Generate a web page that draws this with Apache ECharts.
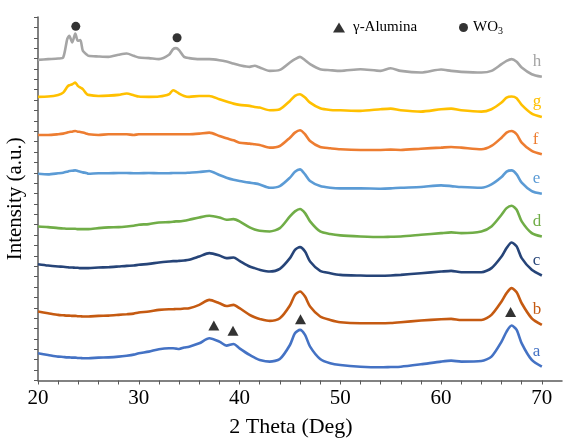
<!DOCTYPE html>
<html>
<head>
<meta charset="utf-8">
<script src="https://cdn.jsdelivr.net/npm/echarts@6/dist/echarts.min.js"></script>
<style>
html,body{margin:0;padding:0;background:#fff;}
#chart{width:568px;height:438px;}
</style>
</head>
<body>
<div id="chart"></div>
<script>
// 2-theta positions (deg)
const twoTheta = [20,21,22,22.5,22.9,23.1,23.4,23.7,23.95,24.2,24.45,24.8,25,26,27,28,28.8,29.5,30,31,32,33,33.4,33.7,34,34.5,35,36,37,38,38.7,39.4,40,41,41.5,42,43,44,45,45.5,46,46.5,47,48,49,50,52,54,55,56,58,60,61,62,64,65,66,66.5,67,67.5,68,69,70];

// Intensity (a.u., stacked offsets) for each sample
const seriesA = [2.62,2.46,2.30,2.27,2.23,2.23,2.20,2.20,2.17,2.17,2.14,2.14,2.14,2.20,2.23,2.30,2.39,2.49,2.62,2.78,3.01,3.10,3.10,3.07,3.04,3.17,3.26,3.58,4.07,3.74,3.36,3.52,3.10,2.46,2.20,1.98,1.82,2.07,3.42,4.55,4.87,4.39,3.26,2.07,1.66,1.49,1.33,1.27,1.30,1.33,1.56,1.82,1.91,1.82,1.88,2.30,3.74,4.71,5.29,4.87,3.58,1.98,1.33];
const seriesB = [6.64,6.48,6.32,6.28,6.25,6.25,6.22,6.22,6.19,6.19,6.16,6.16,6.16,6.22,6.25,6.32,6.38,6.44,6.54,6.64,6.80,6.86,6.86,6.89,6.89,6.93,6.96,7.28,7.76,7.44,7.18,7.28,6.96,6.32,6.09,5.93,5.74,5.99,7.22,8.24,8.57,8.08,7.12,6.16,5.83,5.61,5.51,5.51,5.54,5.61,5.77,5.90,5.93,5.83,5.83,6.32,7.60,8.41,8.89,8.50,7.44,5.99,5.35];
const seriesC = [11.20,11.07,10.98,10.95,10.91,10.88,10.88,10.85,10.85,10.82,10.82,10.82,10.82,10.88,10.91,10.98,11.04,11.07,11.14,11.23,11.36,11.46,11.49,11.49,11.52,11.56,11.62,11.94,12.26,12.04,11.78,11.84,11.52,10.98,10.82,10.66,10.49,10.75,11.78,12.58,12.84,12.42,11.46,10.56,10.33,10.17,10.11,10.08,10.11,10.17,10.33,10.49,10.56,10.43,10.43,10.82,11.94,12.75,13.29,12.91,11.78,10.66,10.11];
const seriesD = [14.83,14.77,14.67,14.64,14.61,14.61,14.61,14.61,14.58,14.58,14.58,14.58,14.58,14.67,14.74,14.77,14.83,14.90,15.00,15.06,15.22,15.25,15.28,15.32,15.32,15.38,15.48,15.70,15.86,15.70,15.48,15.54,15.32,14.74,14.54,14.42,14.35,14.67,15.80,16.28,16.51,16.12,15.32,14.35,14.10,13.97,13.87,13.81,13.84,13.87,14.03,14.19,14.26,14.19,14.35,14.83,15.96,16.60,16.83,16.44,15.32,14.19,13.87];
const seriesE = [19.91,19.85,19.95,20.01,20.11,20.17,20.20,20.23,20.17,20.11,20.04,19.98,19.91,19.95,19.95,19.98,19.98,19.95,19.95,19.98,19.95,19.95,19.98,19.98,19.98,19.98,20.01,20.07,20.17,19.78,19.53,19.33,19.21,19.05,18.98,18.88,18.56,18.72,19.53,20.11,20.33,19.85,19.21,18.72,18.56,18.50,18.50,18.47,18.50,18.56,18.63,18.79,18.72,18.63,18.56,18.88,19.59,20.11,20.23,19.85,19.05,18.24,17.98];
const seriesF = [23.64,23.64,23.71,23.77,23.87,23.93,23.96,24.03,23.96,23.93,23.87,23.77,23.71,23.64,23.71,23.71,23.71,23.64,23.71,23.71,23.71,23.71,23.71,23.71,23.71,23.71,23.71,23.77,23.87,23.55,23.32,23.13,22.90,22.81,22.74,22.68,22.42,22.58,23.38,23.87,24.09,23.71,23.06,22.48,22.36,22.26,22.20,22.20,22.23,22.20,22.32,22.42,22.48,22.42,22.26,22.58,23.38,23.87,24.03,23.71,22.90,22.10,21.78];
const seriesG = [27.31,27.34,27.50,27.72,28.27,28.43,28.53,28.69,28.37,28.21,28.05,27.63,27.50,27.40,27.43,27.50,27.63,27.47,27.34,27.31,27.34,27.56,27.95,27.82,27.63,27.40,27.31,27.40,27.40,27.08,26.86,26.66,26.54,26.44,26.34,26.28,26.02,26.12,26.92,27.40,27.56,27.24,26.76,26.21,26.05,26.02,25.96,26.12,26.18,26.02,25.89,26.12,26.18,26.02,25.89,26.12,26.76,27.24,27.34,27.18,26.54,25.70,25.38];
const seriesH = [30.87,30.94,31.00,31.10,32.87,33.19,32.55,33.41,32.71,32.77,31.74,31.42,31.26,31.20,31.16,31.36,31.48,31.26,31.10,31.04,30.94,31.36,31.90,32.00,31.81,31.16,31.04,30.94,30.94,30.84,30.71,30.52,30.36,30.20,30.30,30.14,29.81,29.91,30.62,30.94,31.16,30.84,30.46,29.97,29.88,29.81,29.97,29.81,30.07,29.81,29.65,29.94,29.81,29.72,29.65,29.81,30.46,30.78,30.94,30.68,30.14,29.49,29.24];

const sampleNames = ['a','b','c','d','e','f','g','h'];

// Phase markers
const aluminaX = [37.45, 39.35, 46.05, 66.9];
const aluminaY = [5.30, 4.80, 5.90, 6.60];
const wo3X = [23.75, 33.8];
const wo3Y = [34.10, 33.00];

// x tick labels
const xTickLabels = [20, 30, 40, 50, 60, 70];

const allSeries = [seriesA, seriesB, seriesC, seriesD, seriesE, seriesF, seriesG, seriesH];
const colors = ['#4472C4','#C55A11','#264478','#70AD47','#5B9BD5','#ED7D31','#FFC000','#A5A5A5'];
const FONT = '"Liberation Serif","Times New Roman",serif';

const lineSeries = allSeries.map((vals, i) => ({
  type: 'line',
  name: sampleNames[i],
  data: twoTheta.map((x, j) => [x, vals[j]]),
  showSymbol: false,
  symbol: 'none',
  smooth: 0.25,
  silent: true,
  color: colors[i],
  lineStyle: { width: 2.6, color: colors[i] },
  endLabel: {
    show: true,
    formatter: sampleNames[i],
    color: colors[i],
    fontFamily: FONT,
    fontSize: 17,
    distance: 0,
    offset: [-9, -15]
  },
  z: 2
}));

const chart = echarts.init(document.getElementById('chart'), null, { renderer: 'canvas' });
chart.setOption({
  backgroundColor: '#fff',
  animation: false,
  grid: { left: 38, right: 6, top: 17, bottom: 57.5, containLabel: false, outerBoundsMode: 'none' },
  legend: [
    {
      left: 328, top: 15,
      itemWidth: 12, itemHeight: 10,
      data: [{ name: 'γ-Alumina', icon: 'triangle' }],
      textStyle: { fontFamily: FONT, fontSize: 15, color: '#000', padding: [0,0,0,3] },
      selectedMode: false
    },
    {
      left: 454, top: 15,
      itemWidth: 9, itemHeight: 9,
      data: [{ name: 'WO3', icon: 'circle' }],
      formatter: () => 'WO{sub|3}',
      textStyle: { fontFamily: FONT, fontSize: 15, color: '#000',
        rich: { sub: { fontFamily: FONT, fontSize: 10, verticalAlign: 'bottom', padding: [8,0,0,0] } } },
      selectedMode: false
    }
  ],
  xAxis: {
    type: 'value', min: 20, max: 72, interval: 2,
    name: '2 Theta (Deg)', nameLocation: 'middle', nameGap: 36,
    nameTextStyle: { fontFamily: FONT, fontSize: 22, color: '#000', padding: [0, 18, 0, 0] },
    axisLine: { show: true, lineStyle: { color: '#595959', width: 1.5 } },
    axisTick: { show: true, inside: false, length: 4, lineStyle: { color: '#595959', width: 1 } },
    axisLabel: {
      fontFamily: FONT, fontSize: 21, color: '#000', margin: 7,
      showMaxLabel: false,
      formatter: v => (xTickLabels.indexOf(v) >= 0 ? String(v) : '')
    },
    splitLine: { show: false }
  },
  yAxis: {
    type: 'value', min: 0, max: 35, interval: 1,
    name: 'Intensity (a.u.)', nameLocation: 'middle', nameGap: 12,
    nameTextStyle: { fontFamily: FONT, fontSize: 21, color: '#000' },
    axisLine: { show: true, lineStyle: { color: '#595959', width: 1.5 } },
    axisTick: { show: true, inside: false, length: 4, lineStyle: { color: '#595959', width: 1 } },
    axisLabel: { show: false },
    splitLine: { show: false }
  },
  series: lineSeries.concat([
    {
      type: 'scatter', name: 'γ-Alumina', symbol: 'triangle', symbolSize: [11, 10],
      itemStyle: { color: '#000' }, silent: true, z: 5,
      data: aluminaX.map((x, i) => [x, aluminaY[i]])
    },
    {
      type: 'scatter', name: 'WO3', symbol: 'circle', symbolSize: 9,
      itemStyle: { color: '#000' }, silent: true, z: 5,
      data: wo3X.map((x, i) => [x, wo3Y[i]])
    }
  ])
});
</script>
</body>
</html>
